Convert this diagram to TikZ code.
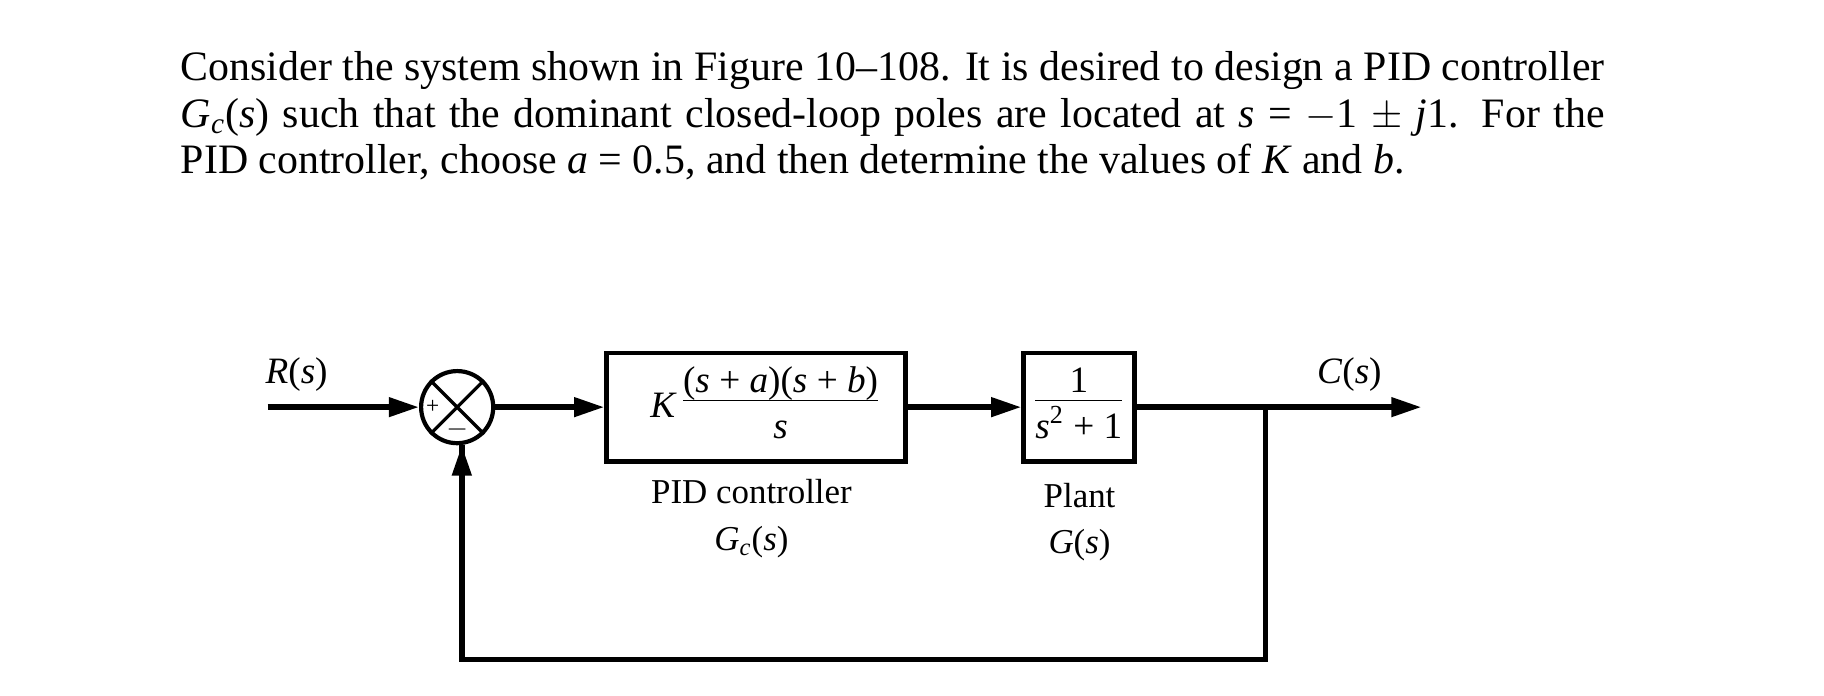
\documentclass[tikz,border=0pt]{standalone}
\usepackage{fontspec}
\setmainfont{Liberation Serif}
\usetikzlibrary{arrows.meta}
\newcommand{\tfrac}[2]{}
\begin{document}
\begin{tikzpicture}[x=0.5pt,y=-0.5pt,
  line/.style={line width=2.4pt},
  arr/.style={line, -{Triangle[length=13pt,width=8pt]}},
  blk/.style={draw, line width=2pt, inner sep=0pt},
  lbl/.style={font=\fontsize{15}{17}\selectfont, align=center, inner sep=0pt}]
\useasboundingbox (0,0) rectangle (1568,598);
\node[anchor=north west, inner sep=0pt, text width=612pt, align=justify,
  font=\fontsize{18}{20}\selectfont] (para) at (155,44)
{Consider the system shown in Figure 10--108. It is desired to design a PID controller\linebreak
\textit{G}\textsubscript{\textit{c}}(\textit{s}) such that the dominant closed-loop poles are located at \textit{s} = $-$1 $\pm$ \textit{j}1. For the\linebreak
PID controller, choose \textit{a} = 0.5, and then determine the values of \textit{K} and \textit{b}.};
\node[draw, circle, line width=1.8pt, minimum size=31pt, inner sep=0pt] (sum) at (393,350) {};
\draw[line width=1.4pt] (sum.north west) -- (sum.south east) (sum.north east) -- (sum.south west);
\node[font=\fontsize{10}{10}\selectfont, inner sep=0pt] (plus) at (372,350) {+};
\node[font=\fontsize{12}{12}\selectfont, inner sep=0pt] (minus) at (393,369) {$-$};
\node[blk, minimum width=128.5pt, minimum height=46.5pt] (pid) at (650,350) {};
\node[lbl, font=\fontsize{16}{18}\selectfont] (pidtf) at (657,350) {\textit{K}\,\begin{tabular}{@{}c@{}}(\textit{s} + \textit{a})(\textit{s} + \textit{b})\\[-2pt]\hline\rule{0pt}{16pt}\textit{s}\end{tabular}};
\node[blk, minimum width=47.5pt, minimum height=46.5pt] (plant) at (927.5,350) {};
\node[lbl, font=\fontsize{16}{18}\selectfont] (planttf) at (927.5,350) {\begin{tabular}{@{}c@{}}1\\[-2pt]\hline\rule{0pt}{16pt}\textit{s}\textsuperscript{2} + 1\end{tabular}};
\coordinate (in) at (230,350);
\coordinate (out) at (1222,350);
\coordinate (br) at (1088,350);
\coordinate (bot1) at (1088,567);
\coordinate (bot2) at (397,567);
\node[lbl, font=\fontsize{16}{18}\selectfont] (R) at (255,322) {\textit{R}(\textit{s})};
\node[lbl, font=\fontsize{16}{18}\selectfont] (C) at (1160,322) {\textit{C}(\textit{s})};
\node[lbl] (pidl) at (646,446) {PID controller\\[3pt]\textit{G}\textsubscript{\textit{c}}(\textit{s})};
\node[lbl] (plantl) at (928,449) {Plant\\[3pt]\textit{G}(\textit{s})};
\draw[arr] (in) -- (sum.west);
\draw[arr] (sum.east) -- (pid.west);
\draw[arr] (pid.east) -- (plant.west);
\draw[arr] (plant.east) -- (out);
\draw[line] (br) -- (bot1) -- (bot2) -- (bot2 |- sum.south);
\draw[arr] (bot2) -- (sum.south -| bot2);
\end{tikzpicture}
\end{document}
